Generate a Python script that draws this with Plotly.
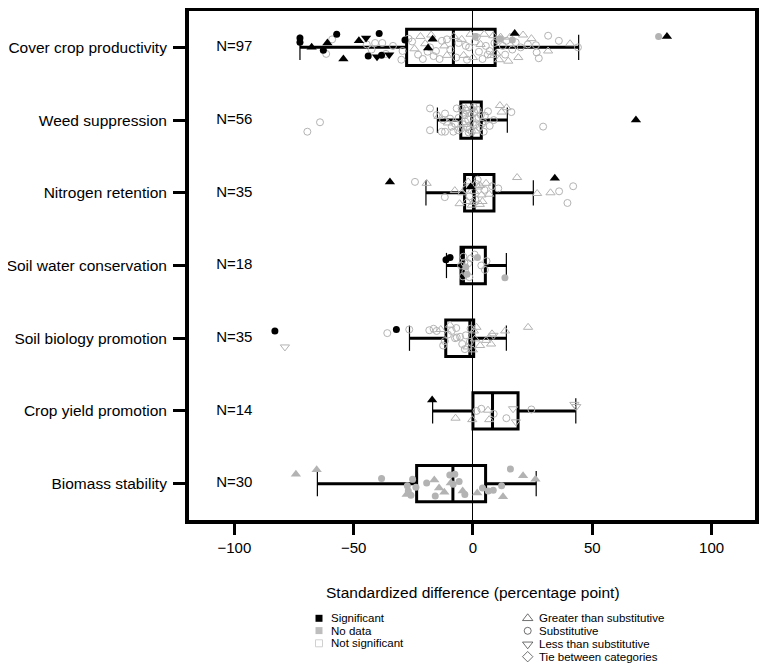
import pandas as pd
import plotly.graph_objects as go

# rows from bottom (1) to top (7)
categories = ["Biomass stability", "Crop yield promotion", "Soil biology promotion",
              "Soil water conservation", "Nitrogen retention", "Weed suppression",
              "Cover crop productivity"]
n_obs = [30, 14, 35, 18, 35, 56, 97]

# box statistics (percentage point)
q1 = [-23.6, 0.0, -11.4, -5.0, -3.5, -5.1, -27.8]
median = [-8.4, 8.2, -1.3, -4.0, 0.5, -0.5, -8.2]
q3 = [5.3, 18.9, 0.3, 5.2, 8.8, 3.5, 9.3]
whisker_lo = [-65.2, -16.9, -26.6, -11.1, -19.7, -14.9, -72.5]
whisker_hi = [26.5, 43.1, 14.0, 14.0, 25.3, 14.4, 44.3]

# individual studies: (difference, vertical jitter, significance, category)
# significance: S significant, D no data, N not significant
# category: ^ greater than substitutive, o substitutive, v less than substitutive, d tie
cover_points = [
    (-72.5, 0.13, "S", "o"), (-72.5, 0.07, "S", "o"), (-67.6, 0.00, "S", "^"), (-62.7, -0.04, "S", "o"),
    (-61.0, 0.06, "S", "^"), (-57.1, 0.18, "S", "o"), (-54.3, -0.16, "S", "^"), (-47.8, 0.09, "S", "^"),
    (-44.8, 0.13, "S", "v"), (-39.3, 0.19, "S", "o"), (-43.9, -0.12, "S", "o"), (-40.2, -0.13, "S", "v"),
    (-38.3, -0.11, "S", "o"), (-35.1, -0.10, "S", "v"), (-28.5, 0.10, "S", "o"), (-16.9, 0.11, "S", "^"),
    (-18.8, -0.01, "S", "^"), (17.5, 0.19, "S", "^"), (81.3, 0.15, "S", "^"),
    (1.0, 0.15, "D", "o"), (11.5, 0.12, "D", "o"), (16.5, 0.10, "D", "o"), (77.8, 0.15, "D", "o"),
    (-61.5, -0.09, "N", "o"), (-59.0, 0.11, "N", "o"), (-44.5, 0.04, "N", "o"), (-42.5, -0.03, "N", "o"),
    (-41.0, 0.06, "N", "o"), (-38.0, 0.06, "N", "o"), (-36.5, -0.09, "N", "o"), (-33.5, 0.02, "N", "o"),
    (-30.0, -0.17, "N", "o"), (-29.5, -0.05, "N", "o"),
    (-27.0, 0.12, "N", "o"), (-25.5, 0.08, "N", "o"), (-24.5, -0.02, "N", "^"), (-23.0, -0.10, "N", "o"),
    (-22.0, 0.15, "N", "^"), (-21.0, -0.16, "N", "o"), (-20.0, 0.05, "N", "^"), (-19.0, -0.06, "N", "o"),
    (-17.5, 0.17, "N", "^"), (-16.5, -0.12, "N", "o"), (-15.5, -0.05, "N", "o"), (-14.0, -0.16, "N", "o"),
    (-13.0, 0.09, "N", "o"), (-12.0, 0.02, "N", "^"), (-10.9, 0.11, "N", "o"), (-10.9, -0.11, "N", "^"),
    (-9.5, -0.03, "N", "o"), (-8.0, 0.15, "N", "^"), (-7.0, -0.14, "N", "o"), (-6.0, 0.06, "N", "o"),
    (-4.7, 0.11, "N", "^"), (-3.9, -0.11, "N", "^"), (-3.0, 0.02, "N", "o"), (-1.6, 0.00, "N", "o"),
    (-1.0, 0.18, "N", "^"), (0.0, -0.14, "N", "^"), (0.8, 0.08, "N", "o"), (1.6, 0.14, "N", "o"),
    (2.5, -0.06, "N", "o"), (3.2, 0.04, "N", "^"), (4.0, -0.16, "N", "o"), (4.7, 0.18, "N", "^"),
    (5.4, 0.02, "N", "o"), (6.2, -0.10, "N", "o"), (7.0, -0.05, "N", "o"), (7.8, -0.11, "N", "^"),
    (8.5, 0.16, "N", "^"), (9.0, 0.06, "N", "o"), (-2.5, -0.17, "N", "o"), (-18.0, 0.00, "N", "o"),
    (10.0, 0.10, "N", "o"), (11.0, -0.17, "N", "^"), (11.6, 0.14, "N", "^"), (12.5, 0.02, "N", "o"),
    (13.5, -0.10, "N", "o"), (14.0, 0.09, "N", "o"), (14.8, -0.19, "N", "^"), (15.5, 0.14, "N", "^"),
    (16.5, -0.03, "N", "o"), (17.9, 0.07, "N", "o"), (19.0, -0.14, "N", "^"), (21.0, 0.17, "N", "^"),
    (23.0, 0.04, "N", "o"), (26.4, 0.03, "N", "o"), (26.7, -0.07, "N", "o"), (27.6, -0.15, "N", "o"),
    (31.5, 0.16, "N", "o"), (31.5, -0.05, "N", "^"), (36.0, 0.09, "N", "o"), (40.7, 0.05, "N", "^"),
    (44.0, 0.00, "N", "o"), (9.8, -0.08, "N", "^"), (24.5, 0.12, "N", "^"), (20.0, 0.00, "N", "o"),
]

weed_points = [
    (68.3, 0.00, "S", "^"),
    (-69.4, -0.16, "N", "o"), (-64.1, -0.03, "N", "o"), (-18.0, 0.16, "N", "o"), (-18.0, -0.14, "N", "o"),
    (-15.2, 0.07, "N", "o"), (-14.4, 0.05, "N", "^"), (-11.7, 0.09, "N", "o"), (-9.6, 0.02, "N", "o"),
    (-8.9, -0.09, "N", "o"), (-13.1, -0.16, "N", "o"), (-11.7, -0.16, "N", "o"), (-8.2, -0.16, "N", "o"),
    (-6.8, 0.16, "N", "o"), (-4.7, 0.16, "N", "o"), (-3.3, 0.07, "N", "o"), (-3.3, -0.02, "N", "o"),
    (-2.6, -0.10, "N", "o"), (-0.5, -0.16, "N", "o"), (0.9, -0.07, "N", "o"), (2.3, 0.04, "N", "o"),
    (3.8, -0.05, "N", "o"), (4.5, -0.16, "N", "o"), (6.3, 0.12, "N", "o"), (8.7, 0.00, "N", "o"),
    (11.3, 0.20, "N", "^"), (14.1, 0.17, "N", "^"), (12.0, 0.11, "N", "^"), (16.1, 0.11, "N", "o"),
    (29.4, -0.09, "N", "o"),
    (-6.0, 0.03, "N", "o"), (-5.0, -0.12, "N", "o"), (-4.2, 0.10, "N", "o"), (-3.8, -0.06, "N", "^"),
    (-2.8, 0.13, "N", "o"), (-2.0, 0.01, "N", "o"), (-1.5, -0.13, "N", "o"), (-1.0, 0.08, "N", "^"),
    (-0.5, 0.15, "N", "o"), (0.0, -0.04, "N", "o"), (0.5, 0.11, "N", "o"), (1.0, -0.15, "N", "^"),
    (1.5, 0.02, "N", "o"), (2.0, 0.14, "N", "o"), (2.8, -0.10, "N", "o"), (3.3, 0.07, "N", "o"),
    (-7.5, -0.05, "N", "o"), (-10.5, -0.04, "N", "^"), (-12.5, 0.00, "N", "o"), (5.0, 0.06, "N", "o"),
    (7.0, -0.08, "N", "o"), (-1.8, -0.17, "N", "o"), (0.3, 0.18, "N", "o"), (-3.0, 0.16, "N", "^"),
    (4.2, -0.02, "N", "o"), (-6.2, -0.14, "N", "o"),
]

nitrogen_points = [
    (-34.8, 0.15, "S", "^"), (-1.0, 0.08, "S", "^"), (34.3, 0.20, "S", "^"),
    (-24.3, 0.15, "N", "o"), (-19.4, 0.13, "N", "^"), (-11.8, -0.06, "N", "o"), (-7.6, 0.03, "N", "^"),
    (-5.6, -0.15, "N", "^"), (-2.5, -0.12, "N", "^"), (2.9, -0.16, "N", "^"), (3.6, -0.03, "N", "^"),
    (6.8, -0.02, "N", "^"), (2.2, 0.08, "N", "^"), (1.5, 0.12, "N", "o"), (18.5, 0.21, "N", "^"),
    (10.6, 0.06, "N", "o"), (26.9, -0.01, "N", "^"), (32.5, 0.00, "N", "^"), (36.1, 0.02, "N", "o"),
    (42.0, 0.09, "N", "o"), (39.6, -0.14, "N", "o"),
    (-3.0, 0.05, "N", "o"), (-2.0, 0.15, "N", "^"), (-1.5, -0.05, "N", "o"), (-0.5, -0.17, "N", "^"),
    (0.5, 0.02, "N", "^"), (1.0, -0.09, "N", "o"), (2.0, 0.18, "N", "o"), (3.0, 0.10, "N", "^"),
    (4.0, -0.12, "N", "^"), (4.8, 0.04, "N", "o"), (5.5, 0.13, "N", "^"), (-4.5, 0.00, "N", "^"),
    (0.2, -0.13, "N", "^"), (8.0, 0.09, "N", "o"),
]

water_points = [
    (-11.3, 0.08, "S", "o"), (-9.6, 0.11, "S", "o"),
    (1.9, 0.11, "D", "o"), (13.4, -0.17, "D", "o"), (-3.0, -0.02, "D", "o"), (-2.5, -0.12, "D", "o"),
    (0.7, 0.15, "N", "o"), (5.7, 0.06, "N", "o"), (5.0, -0.06, "N", "o"), (-3.6, 0.04, "N", "o"),
    (-3.2, -0.09, "N", "o"), (-4.2, -0.15, "N", "o"), (-4.0, 0.12, "N", "o"), (-2.0, 0.03, "N", "o"),
    (-1.5, -0.16, "N", "o"), (3.5, 0.00, "N", "o"), (-0.8, 0.10, "N", "o"), (-5.0, 0.00, "N", "o"),
]

biology_points = [
    (-83.0, 0.10, "S", "o"), (-32.1, 0.12, "S", "o"),
    (-78.8, -0.12, "N", "v"), (-35.9, 0.07, "N", "o"), (-26.7, 0.12, "N", "o"), (-18.3, 0.11, "N", "o"),
    (-15.2, 0.10, "N", "o"), (-13.5, 0.12, "N", "^"), (-9.6, 0.18, "N", "^"), (-8.9, 0.10, "N", "o"),
    (-6.8, 0.01, "N", "o"), (-5.4, 0.02, "N", "o"), (-7.5, 0.00, "N", "o"), (-12.5, -0.10, "N", "o"),
    (-3.4, -0.15, "N", "o"), (-1.3, -0.05, "N", "o"), (0.4, 0.10, "N", "^"), (1.5, 0.15, "N", "^"),
    (0.8, -0.01, "N", "^"), (5.5, -0.03, "N", "^"), (8.0, 0.06, "N", "^"), (7.6, -0.08, "N", "^"),
    (8.6, 0.04, "N", "v"), (13.5, 0.10, "N", "^"), (23.1, 0.15, "N", "^"), (-10.5, 0.05, "N", "o"),
    (-4.5, -0.08, "N", "o"), (-2.3, -0.12, "N", "^"), (-1.0, 0.13, "N", "o"), (-11.8, -0.04, "N", "o"),
    (-7.0, 0.14, "N", "o"), (-3.0, 0.04, "N", "o"), (0.0, -0.16, "N", "^"), (3.0, -0.10, "N", "^"),
    (-16.5, 0.13, "N", "o"),
]

crop_points = [
    (-17.1, 0.15, "S", "^"),
    (-7.3, -0.10, "N", "^"), (-0.3, -0.12, "N", "^"), (6.3, 0.01, "N", "^"), (6.8, -0.12, "N", "^"),
    (1.5, 0.00, "N", "o"), (8.7, -0.04, "N", "o"), (14.0, -0.10, "N", "o"), (24.5, 0.02, "N", "o"),
    (16.8, 0.03, "N", "v"), (18.0, -0.15, "N", "v"), (42.5, 0.09, "N", "v"), (43.3, 0.06, "N", "v"),
    (3.5, 0.03, "N", "o"),
]

biomass_points = [
    (-74.2, 0.13, "D", "^"), (-65.5, 0.19, "D", "^"), (-38.3, 0.07, "D", "o"), (-25.3, 0.06, "D", "o"),
    (-27.5, -0.03, "D", "o"), (-27.1, -0.10, "D", "o"), (-27.8, -0.15, "D", "^"), (-23.9, -0.05, "D", "o"),
    (-19.4, 0.01, "D", "o"), (-16.2, 0.05, "D", "^"), (-14.2, -0.06, "D", "^"), (-15.8, -0.17, "D", "o"),
    (-9.7, 0.12, "D", "o"), (-9.3, 0.01, "D", "^"), (-7.6, 0.13, "D", "o"), (-5.8, 0.03, "D", "o"),
    (-4.3, -0.10, "D", "^"), (-3.4, -0.15, "D", "o"), (1.8, -0.13, "D", "^"), (4.0, -0.06, "D", "o"),
    (6.4, -0.10, "D", "o"), (8.5, -0.09, "D", "o"), (12.0, -0.03, "D", "o"), (12.6, -0.18, "D", "^"),
    (15.7, 0.20, "D", "o"), (21.0, 0.11, "D", "^"), (26.2, 0.06, "D", "^"), (-8.3, -0.01, "D", "o"),
    (-26.0, -0.16, "D", "o"), (-12.0, -0.12, "D", "^"),
]

points_by_row = [biomass_points, crop_points, biology_points, water_points,
                 nitrogen_points, weed_points, cover_points]

sig_labels = ["Significant", "No data", "Not significant"]
type_labels = ["Greater than substitutive", "Substitutive", "Less than substitutive",
               "Tie between categories"]

GREY = "#b3b3b3"
FONT = "Liberation Sans, Arial, sans-serif"
# the page body adds an 8px margin, so the figure is drawn 8px in from the window corner
OFF = 8
W, H = 752, 656


def px_x(p):
    return (p - OFF) / W


def px_y(p):
    return 1 - (p - OFF) / H


positions = list(range(1, len(categories) + 1))

rows = []
for pos, pts in zip(positions, points_by_row):
    for val, jit, sig, typ in pts:
        rows.append({"value": val, "y": pos + jit, "sig": sig, "typ": typ})
df = pd.DataFrame(rows)

symbols = {"^": "triangle-up", "o": "circle", "v": "triangle-down", "d": "diamond"}
sizes = {"^": 9, "o": 7, "v": 9, "d": 8}

fig = go.Figure()

# boxes
fig.add_trace(go.Box(
    y=positions, q1=q1, median=median, q3=q3,
    lowerfence=whisker_lo, upperfence=whisker_hi,
    orientation="h", width=0.5, whiskerwidth=0,
    line=dict(color="black", width=3), fillcolor="rgba(0,0,0,0)",
    boxpoints=False, hoverinfo="skip",
))

# thin staples at whisker ends
fig.add_trace(go.Scatter(
    x=whisker_lo + whisker_hi, y=positions + positions, mode="markers",
    marker=dict(symbol="line-ns", size=18, line=dict(width=1.2, color="black")),
    hoverinfo="skip",
))

# points: not significant first, significant on top
for sig in ["N", "D", "S"]:
    for typ in ["o", "^", "v", "d"]:
        grp = df[(df.sig == sig) & (df.typ == typ)]
        if grp.empty:
            continue
        sym = symbols[typ]
        color = "black" if sig == "S" else GREY
        if sig == "N":
            sym += "-open"
            size = sizes[typ] - (1 if typ != "o" else 0)
            line = dict(width=1, color=GREY)
        else:
            size = sizes[typ]
            line = dict(width=0)
        fig.add_trace(go.Scatter(
            x=grp.value, y=grp.y, mode="markers",
            marker=dict(symbol=sym, size=size, color=color, line=line),
        ))

# sample sizes
fig.add_trace(go.Scatter(
    x=[-100] * len(positions), y=positions, mode="text",
    text=[f"N={n}" for n in n_obs], textfont=dict(size=15, color="black", family=FONT),
    hoverinfo="skip",
))

# legend drawn on a helper axis whose units are window pixels
LEG_FRAC = 0.16
sig_rows = [618.3, 630.6, 643.3]
type_rows = [618.3, 630.8, 644.3, 656.7]
fig.add_trace(go.Scatter(
    x=[319] * 3, y=sig_rows, xaxis="x2", yaxis="y2", mode="markers",
    marker=dict(symbol=["square", "square", "square-open"], size=7,
                color=["black", "#bdbdbd", "#d0d0d0"],
                line=dict(width=[0, 0, 1], color=["black", "#bdbdbd", "#d0d0d0"])),
    hoverinfo="skip",
))
fig.add_trace(go.Scatter(
    x=[527.7] * 4, y=type_rows, xaxis="x2", yaxis="y2", mode="markers",
    marker=dict(symbol=["triangle-up-open", "circle-open", "triangle-down-open", "diamond-open"],
                size=[9, 7, 9, 8], color="#333333", line=dict(width=1, color="#333333")),
    hoverinfo="skip",
))
annotations = []
for lab, yy in zip(sig_labels, sig_rows):
    annotations.append(dict(x=329, y=yy, xref="x2", yref="y2", text=lab, showarrow=False,
                            xanchor="left", yanchor="middle",
                            font=dict(size=11.5, family=FONT, color="black")))
for lab, yy in zip(type_labels, type_rows):
    annotations.append(dict(x=537.3, y=yy, xref="x2", yref="y2", text=lab, showarrow=False,
                            xanchor="left", yanchor="middle",
                            font=dict(size=11.5, family=FONT, color="black")))

# x-axis title
annotations.append(dict(x=px_x(472.5), y=px_y(592), xref="paper", yref="paper",
                        text="Standardized difference (percentage point)", showarrow=False,
                        xanchor="center", yanchor="middle",
                        font=dict(size=15.5, family=FONT, color="black")))

fig.update_layout(
    width=W, height=H,
    margin=dict(l=0, r=0, t=0, b=0, pad=0),
    paper_bgcolor="white", plot_bgcolor="white",
    font=dict(family=FONT, size=15, color="black"),
    showlegend=False,
    annotations=annotations,
    xaxis=dict(
        domain=[px_x(189), px_x(755)], range=[-119, 118.2],
        tickvals=[-100, -50, 0, 50, 100], ticks="outside", ticklen=11, tickwidth=2.5, tickcolor="black",
        showline=True, mirror=True, linewidth=4, linecolor="black",
        showgrid=False, zeroline=True, zerolinecolor="black", zerolinewidth=1,
        tickfont=dict(size=15), automargin=False, fixedrange=True,
    ),
    yaxis=dict(
        domain=[px_y(520), px_y(11)], range=[0.5, 7.5],
        tickvals=positions, ticktext=categories, ticks="outside", ticklen=12, tickwidth=2.5,
        tickcolor="black", showline=True, mirror=True, linewidth=4, linecolor="black",
        showgrid=False, zeroline=False, tickfont=dict(size=15.5), ticklabelstandoff=3,
        automargin=False, fixedrange=True,
    ),
    xaxis2=dict(domain=[0, 1], range=[OFF, W + OFF], anchor="y2", visible=False, fixedrange=True),
    yaxis2=dict(domain=[0, LEG_FRAC], range=[H + OFF, H + OFF - LEG_FRAC * H], anchor="x2",
                visible=False, fixedrange=True),
)

fig.write_html("out.html")
